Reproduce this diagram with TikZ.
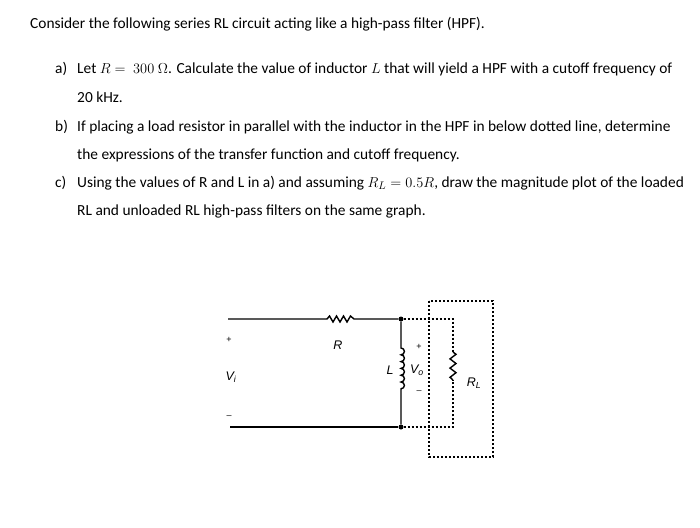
\documentclass[tikz,border=0pt]{standalone}
\usepackage{fontspec}
\setmainfont{Carlito}
\setsansfont{Liberation Sans}
\usetikzlibrary{calc}
\begin{document}
\begin{tikzpicture}[x=1pt,y=-1pt,
  txt/.style={anchor=west,inner sep=0pt,font=\fontsize{15.4}{17}\selectfont},
  lbl/.style={inner sep=0pt,font=\fontsize{12.5}{14}\sffamily\itshape},
  sgn/.style={inner sep=0pt,font=\fontsize{9}{10}\sffamily},
  wire/.style={line width=1.4pt},
  dot/.style={circle,fill,inner sep=0pt,minimum size=5pt},
  dots/.style={line width=1.1pt,dash pattern=on 2pt off 2pt}]
\useasboundingbox (0,0) rectangle (700,527);
\node[txt] (t0) at (30,24) {Consider the following series RL circuit acting like a high-pass filter (HPF).};
\node[txt] (la) at (55,69) {a)};
\node[txt] (ta) at (77,69) {Let $R=\ 300\ \Omega$. Calculate the value of inductor $L$ that will yield a HPF with a cutoff frequency of};
\node[txt] (ta2) at (77,97) {20 kHz.};
\node[txt] (lb) at (55,127) {b)};
\node[txt] (tb) at (77,127) {If placing a load resistor in parallel with the inductor in the HPF in below dotted line, determine};
\node[txt] (tb2) at (77,155) {the expressions of the transfer function and cutoff frequency.};
\node[txt] (lc) at (55,183) {c)};
\node[txt] (tc) at (77,183) {Using the values of R and L in a) and assuming $R_L=0.5R$, draw the magnitude plot of the loaded};
\node[txt] (tc2) at (77,211) {RL and unloaded RL high-pass filters on the same graph.};
% circuit
\coordinate (tl) at (228,319);
\coordinate (bl) at (230,427);
\node[dot] (nt) at (401,319) {};
\node[dot] (nb) at (401,427) {};
\coordinate (r1) at (327,319);
\coordinate (r2) at (354,319);
\draw[wire] (tl) -- (r1) -- ++(2.5,-3) -- ++(3.5,6) -- ++(3.5,-6) -- ++(3.5,6) -- ++(3.5,-6) -- ++(3.5,6) -- ++(3.5,-6) -- (r2) -- (nt);
\draw[wire] (bl) -- (nb);
\draw[wire] (nt) -- (401,348)
  arc[start angle=-90,end angle=90,radius=3.4] arc[start angle=-90,end angle=90,radius=3.4]
  arc[start angle=-90,end angle=90,radius=3.4] arc[start angle=-90,end angle=90,radius=3.4]
  arc[start angle=-90,end angle=90,radius=3.4] arc[start angle=-90,end angle=90,radius=3.4] -- (nb);
\draw[dots] (nt) -- (453,319) -- (453,352);
\draw[dots] (nb) -- (453,427) -- (453,380);
\draw[line width=1.4pt] (453,352) -- ++(3,2.3) -- ++(-6,4.6) -- ++(6,4.6) -- ++(-6,4.6) -- ++(6,4.6) -- ++(-6,4.6) -- (453,380);
\draw[dots] (429,301) rectangle (493,457);
\node[lbl] (R) at (338,345) {R};
\node[lbl] (L) at (390,370) {L};
\node[lbl] (Vo) at (417,370) {V\textsubscript{o}};
\node[lbl] (RL) at (474,383) {R\textsubscript{L}};
\node[sgn] (vp) at (419,347) {+};
\node[sgn] (vm) at (419,392) {--};
\node[sgn] (ip) at (229,340) {+};
\node[sgn] (im) at (229,417) {--};
\node[lbl] (Vi) at (231,377) {V\textsubscript{i}};
\end{tikzpicture}
\end{document}
